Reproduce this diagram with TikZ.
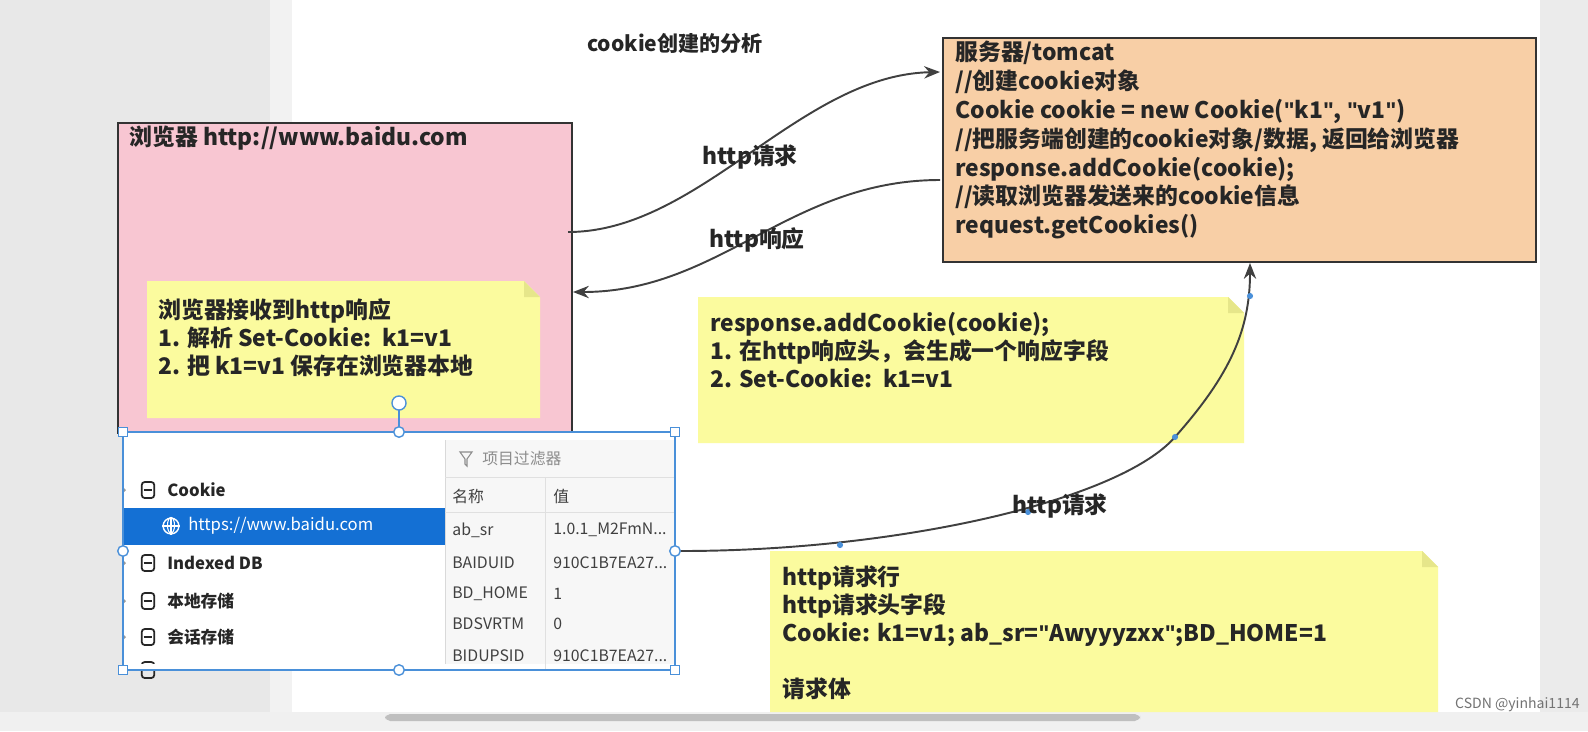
\documentclass[tikz,border=0pt]{standalone}
\usepackage{fontspec}
\setmainfont{Noto Sans CJK SC}
\newfontfamily\qf{Liberation Sans}
\usetikzlibrary{arrows.meta}
\definecolor{pinkbg}{HTML}{F8C6D2}
\definecolor{orangebg}{HTML}{F8CFA6}
\definecolor{notey}{HTML}{FBFB9E}
\definecolor{foldc}{HTML}{E6E68A}
\definecolor{selblue}{HTML}{4A90D9}
\definecolor{rowblue}{HTML}{1470D4}
\newcommand{\mydots}{...}
\newcommand{\q}{{\qf\bfseries "}}
\tikzset{
  x=0.02cm,y=-0.02cm,
  main/.style={font=\fontsize{13}{15.9}\selectfont\bfseries, align=left, anchor=north west, inner sep=0pt, text=black!85},
  conn/.style={draw=black!75, line width=1.1pt, -{Stealth[length=9pt,width=7pt]}},
  lbl/.style={font=\fontsize{13}{15}\selectfont\bfseries, text=black!85},
  small/.style={font=\fontsize{9}{11}\selectfont, anchor=west, inner sep=0pt, text=black!75},
  tree/.style={font=\fontsize{9.5}{11}\selectfont\bfseries, anchor=west, inner sep=0pt, text=black!85},
  handle/.style={draw=selblue, fill=white, line width=0.8pt, minimum size=5pt, inner sep=0pt},
  hround/.style={circle, draw=selblue, fill=white, line width=0.8pt, minimum size=6pt, inner sep=0pt},
  dot/.style={circle, fill=selblue, minimum size=3.5pt, inner sep=0pt},
  dbicon/.style={draw=black!85, line width=1pt, rounded corners=1.5pt, minimum width=7pt, minimum height=9pt, inner sep=0pt}
}
\newcommand{\stickynote}[4]{% x1 y1 x2 y2
  \fill[notey] (#1,#2) -- (#3-16,#2) -- (#3,#2+16) -- (#3,#4) -- (#1,#4) -- cycle;
  \fill[foldc] (#3-16,#2) -- (#3,#2+16) -- (#3-16,#2+16) -- cycle;}
\begin{document}
\begin{tikzpicture}
\useasboundingbox (0,0) rectangle (1588,731);
% backgrounds
\fill[white] (0,0) rectangle (1588,731);
\fill[black!9] (0,0) rectangle (270,731);
\fill[black!5] (270,0) rectangle (292,731);
\fill[black!8] (1540,0) rectangle (1588,731);
\fill[black!6] (0,712) rectangle (1588,731);
\fill[black!25, rounded corners=3pt] (385,714) rectangle (1140,721);
\node[font=\fontsize{8}{9}\selectfont, text=black!55, anchor=east, inner sep=0pt] (wm) at (1580,705) {CSDN @yinhai1114};

% title
\node[lbl, font=\fontsize{12}{14}\selectfont\bfseries] (title) at (675,43) {cookie创建的分析};

% browser box
\node[draw=black!80, line width=1.2pt, fill=pinkbg, anchor=north west, minimum width=454*0.02cm, minimum height=310*0.02cm] (browser) at (117,122) {};
\node[main] (btxt) at (129,126) {浏览器 http://www.baidu.com};

% server box
\node[draw=black!80, line width=1.2pt, fill=orangebg, anchor=north west, minimum width=593*0.02cm, minimum height=224*0.02cm] (server) at (942,37) {};
\node[main, font=\fontsize{13}{16.4}\selectfont\bfseries] (stxt) at (955,41) {服务器/tomcat\\//创建cookie对象\\Cookie cookie = new Cookie(\q k1\q, \q v1\q)\\//把服务端创建的cookie对象/数据, 返回给浏览器\\response.addCookie(cookie);\\//读取浏览器发送来的cookie信息\\request.getCookies()};

% notes
\stickynote{147}{281}{540}{418}
\node[main] (n1) at (158,298) {浏览器接收到http响应\\1. 解析 Set-Cookie:\ \ k1=v1\\2. 把 k1=v1 保存在浏览器本地};
\stickynote{698}{297}{1244}{443}
\node[main] (n2) at (710,312) {response.addCookie(cookie);\\1. 在http响应头，会生成一个响应字段\\2. Set-Cookie:\ \ k1=v1};
\stickynote{770}{551}{1438}{712}
\node[main, font=\fontsize{13}{16}\selectfont\bfseries] (n3) at (782,565) {http请求行\\http请求头字段\\Cookie: k1=v1; ab\_sr=\q Awyyyzxx\q;BD\_HOME=1\\[16pt]请求体};

% arrows top
\coordinate (a1s) at (568,232);
\coordinate (a1e) at (940,72);
\draw[conn] (a1s) .. controls (700,232) and (800,75) .. (a1e);
\node[lbl] (l1) at (750,157) {http请求};
\coordinate (a2s) at (940,180);
\coordinate (a2e) at (573,292);
\draw[conn] (a2s) .. controls (790,180) and (720,292) .. (a2e);
\node[lbl] (l2) at (757,240) {http响应};

% bottom-left panel
\fill[white] (123,432) rectangle (675,670);
\fill[black!3] (445,440) rectangle (675,670);
\draw[black!15] (445,440) -- (445,670);
\fill[rowblue] (123,508) rectangle (445,545);
\node[tree] (t1) at (167,490) {Cookie};
\node[tree, font=\fontsize{9.5}{11}\selectfont, text=white] (t2) at (188,526) {https://www.baidu.com};
\node[circle, draw=white, line width=0.8pt, minimum size=9pt, inner sep=0pt] (globe) at (171,526) {};
\draw[white, line width=0.6pt] (globe.north) -- (globe.south) (globe.west) -- (globe.east);
\draw[white, line width=0.6pt] (globe.north) arc[start angle=90, end angle=270, x radius=2pt, y radius=4.5pt];
\draw[white, line width=0.6pt] (globe.north) arc[start angle=90, end angle=-90, x radius=2pt, y radius=4.5pt];
\node[tree] (t3) at (167,563) {Indexed DB};
\node[tree] (t4) at (167,601) {本地存储};
\node[tree] (t5) at (167,637) {会话存储};
\foreach \yy/\nm in {490/i1,563/i3,601/i4,637/i5,670/i6}{
  \node[dbicon] (\nm) at (148,\yy) {};
  \draw[black!85, line width=0.8pt] ([xshift=1.5pt]\nm.west) -- ([xshift=-1.5pt]\nm.east);
}
\fill[white] (123,664) rectangle (675,670);
\foreach \yy in {490,563,601,637}{\fill[black!40] (123,\yy-3) -- (126,\yy) -- (123,\yy+3) -- cycle;}
% table
\node[small, text=black!45] (filt) at (482,459) {项目过滤器};
\draw[black!45, line width=0.6pt] (460,452) -- (472,452) -- (467,459) -- (467,466) -- (465,464) -- (465,459) -- cycle;
\draw[black!12] (445,477) -- (675,477) (445,512) -- (675,512);
\draw[black!12] (545,477) -- (545,670);
\node[small] (h1) at (452,496) {名称};
\node[small] (h2) at (553,496) {值};
\node[small] (k1) at (452,530) {ab\_sr};
\node[small] (v1) at (553,530) {1.0.1\_M2FmN\mydots};
\node[small] (k2) at (452,563) {BAIDUID};
\node[small] (v2) at (553,563) {910C1B7EA27\mydots};
\node[small] (k3) at (452,594) {BD\_HOME};
\node[small] (v3) at (553,594) {1};
\node[small] (k4) at (452,624) {BDSVRTM};
\node[small] (v4) at (553,624) {0};
\node[small] (k5) at (452,656) {BIDUPSID};
\node[small] (v5) at (553,656) {910C1B7EA27\mydots};
% selection frame
\draw[selblue, line width=0.9pt] (123,432) rectangle (675,670);
\draw[selblue, line width=0.9pt] (399,403) -- (399,432);
\foreach \xx/\yy in {123/432,675/432,123/670,675/670}{\node[handle] at (\xx,\yy) {};}
\foreach \xx/\yy in {399/432,399/670,123/551}{\node[hround] at (\xx,\yy) {};}
\node[hround, minimum size=8pt] (rot) at (399,403) {};
\node[hround] (pr) at (675,551) {};

% bottom arrow
\coordinate (a3e) at (1250,263);
\draw[conn] (pr) .. controls (900,551) and (1120,500) .. (1175,437) .. controls (1230,375) and (1250,330) .. (a3e);
\node[dot] at (840,545) {};
\node[dot] at (1028,512) {};
\node[dot] at (1175,437) {};
\node[dot] at (1250,296) {};
\node[lbl] (l3) at (1060,506) {http请求};
\end{tikzpicture}
\end{document}
